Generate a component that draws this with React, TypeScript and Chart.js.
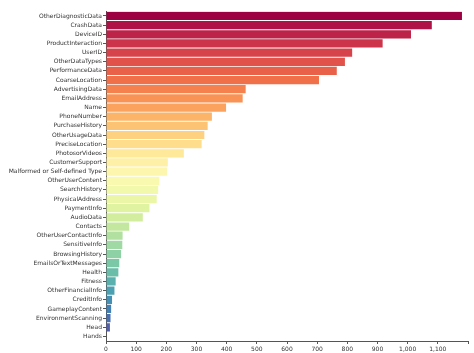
import React, { useEffect, useRef } from "react";
import { Chart, registerables } from "chart.js";

Chart.register(...registerables);

const categories: string[] = [
  "OtherDiagnosticData", "CrashData", "DeviceID", "ProductInteraction", "UserID",
  "OtherDataTypes", "PerformanceData", "CoarseLocation", "AdvertisingData", "EmailAddress",
  "Name", "PhoneNumber", "PurchaseHistory", "OtherUsageData", "PreciseLocation",
  "PhotosorVideos", "CustomerSupport", "Malformed or Self-defined Type", "OtherUserContent",
  "SearchHistory", "PhysicalAddress", "PaymentInfo", "AudioData", "Contacts",
  "OtherUserContactInfo", "SensitiveInfo", "BrowsingHistory", "EmailsOrTextMessages",
  "Health", "Fitness", "OtherFinancialInfo", "CreditInfo", "GameplayContent",
  "EnvironmentScanning", "Head", "Hands",
];

const counts: number[] = [
  1180, 1080, 1011, 917, 816,
  792, 765, 706, 463, 453,
  398, 351, 337, 326, 317,
  258, 205, 202, 177,
  173, 168, 144, 122, 77,
  55, 54, 50, 44,
  41, 32, 28, 20, 17,
  15, 13, 0,
];

const xMax = 1200;
const xStep = 100;

const spectral: string[] = [
  "#9e0142", "#d53e4f", "#f46d43", "#fdae61", "#fee08b", "#ffffbf",
  "#e6f598", "#abdda4", "#66c2a5", "#3288bd", "#5e4fa2",
];

function basis(t1: number, v0: number, v1: number, v2: number, v3: number) {
  const t2 = t1 * t1, t3 = t2 * t1;
  return ((1 - 3 * t1 + 3 * t2 - t3) * v0 + (4 - 6 * t2 + 3 * t3) * v1 +
    (1 + 3 * t1 + 3 * t2 - 3 * t3) * v2 + t3 * v3) / 6;
}
function basisSpline(values: number[]) {
  const n = values.length - 1;
  return (t: number) => {
    let i: number;
    if (t <= 0) { t = 0; i = 0; } else if (t >= 1) { t = 1; i = n - 1; } else i = Math.floor(t * n);
    const v1 = values[i], v2 = values[i + 1];
    const v0 = i > 0 ? values[i - 1] : 2 * v1 - v2;
    const v3 = i < n - 1 ? values[i + 2] : 2 * v2 - v1;
    return basis((t - i / n) * n, v0, v1, v2, v3);
  };
}
const rgb = spectral.map((h) => [
  parseInt(h.slice(1, 3), 16), parseInt(h.slice(3, 5), 16), parseInt(h.slice(5, 7), 16),
]);
const splR = basisSpline(rgb.map((c) => c[0]));
const splG = basisSpline(rgb.map((c) => c[1]));
const splB = basisSpline(rgb.map((c) => c[2]));
function spectralAt(t: number) {
  const cl = (v: number) => Math.max(0, Math.min(255, Math.round(v)));
  return `rgb(${cl(splR(t))},${cl(splG(t))},${cl(splB(t))})`;
}

export default function App() {
  const ref = useRef<HTMLCanvasElement | null>(null);
  useEffect(() => {
    if (!ref.current) return;
    const font = { family: "'DejaVu Sans', Verdana, sans-serif", size: 6 };
    const colors = categories.map((_, i) => spectralAt(i / (categories.length - 1)));
    const chart = new Chart(ref.current, {
      type: "bar",
      data: {
        labels: categories,
        datasets: [{
          data: counts,
          backgroundColor: colors,
          borderWidth: 0,
          barPercentage: 0.9,
          categoryPercentage: 1,
        }],
      },
      options: {
        indexAxis: "y",
        animation: false,
        responsive: false,
        maintainAspectRatio: false,
        layout: { padding: { left: 0, right: 6, top: 11.4, bottom: 0 } },
        plugins: { legend: { display: false }, tooltip: { enabled: false } },
        scales: {
          x: {
            type: "linear",
            min: 0,
            max: xMax,
            border: { display: true, color: "#555", width: 1 },
            grid: { drawOnChartArea: false, drawTicks: true, tickLength: 3, color: "#555" },
            ticks: {
              stepSize: xStep,
              padding: 1.5,
              color: "#333",
              font,
              maxRotation: 0,
              autoSkip: false,
              callback: (v: any) => (Number(v) >= xMax ? "" : Number(v).toLocaleString("en-US")),
            },
            afterFit: (s: any) => { s.height = 12; },
          },
          y: {
            type: "category",
            border: { display: true, color: "#555", width: 1 },
            grid: { drawOnChartArea: false, drawTicks: true, tickLength: 3, color: "#555", offset: false },
            ticks: { padding: 1, color: "#333", font, autoSkip: false },
            afterFit: (s: any) => { s.width = 106; },
          },
        },
      },
    });
    return () => chart.destroy();
  }, []);
  return (
    <div style={{ position: "absolute", left: 0, top: 0, width: 474, height: 353, background: "#fff" }}>
      <canvas ref={ref} width={474} height={353} style={{ width: 474, height: 353 }} />
    </div>
  );
}
